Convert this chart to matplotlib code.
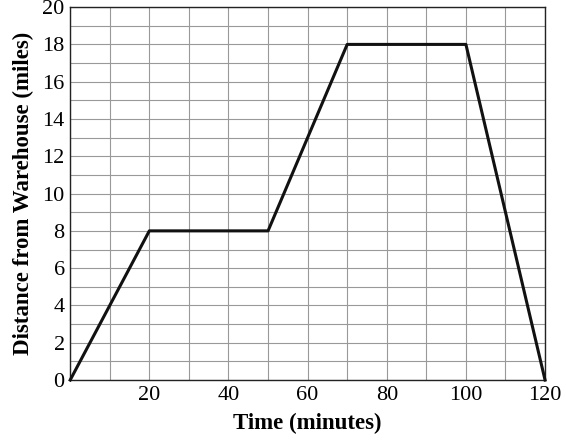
import matplotlib
matplotlib.use("Agg")
import matplotlib.pyplot as plt
import numpy as np

time_min = [0, 20, 50, 70, 100, 120]
distance = [0, 8, 8, 18, 18, 0]
x_ticks = [20, 40, 60, 80, 100, 120]
y_ticks = [0, 2, 4, 6, 8, 10, 12, 14, 16, 18, 20]

plt.rcParams['font.family'] = ['Liberation Serif', 'DejaVu Serif']
fig = plt.figure(figsize=(5.66, 4.45), dpi=100)
ax = fig.add_axes([0.124, 0.146, 0.839, 0.838])
ax.set_xlim(0, 120)
ax.set_ylim(0, 20)
ax.set_xticks(np.arange(0, 121, 10), minor=True)
ax.set_yticks(np.arange(0, 21, 1), minor=True)
ax.set_xticks(x_ticks)
ax.set_yticks(y_ticks)
ax.grid(which='both', color='#999999', linewidth=0.8)
ax.tick_params(which='both', length=0, labelsize=16, pad=4)
ax.set_axisbelow(True)
for s in ax.spines.values():
    s.set_color('#222222'); s.set_linewidth(1.0)
ax.plot(time_min, distance, color='#111111', linewidth=2.2, clip_on=False, zorder=3)
ax.set_xlabel('Time (minutes)', fontsize=16.5, fontweight='bold', labelpad=6)
ax.set_ylabel('Distance from Warehouse (miles)', fontsize=16.5, fontweight='bold', labelpad=6)
fig.savefig('out.png', dpi=100)
